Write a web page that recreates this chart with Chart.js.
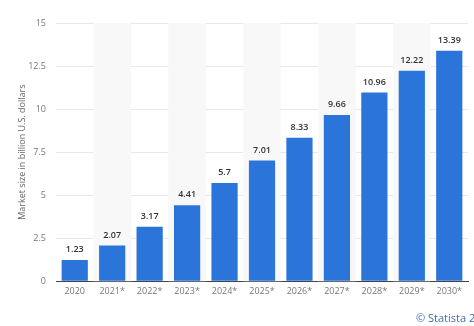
<!DOCTYPE html>
<html>
<head>
    <title>Market size</title>
    <script src="https://cdn.jsdelivr.net/npm/chart.js"></script>
    <style>
        body { margin: 0; background: #fff; }
        #wrap { position: relative; width: 474px; height: 326px; }
        #credit { position: absolute; left: 416px; top: 310px; font: 11px "Open Sans", sans-serif; color: #3b6fb6; white-space: nowrap; }
    </style>
</head>
<body>
    <div id="wrap">
        <canvas id="marketChart" width="474" height="326"></canvas>
        <div id="credit">© Statista 2021</div>
    </div>

    <script>
        const years = ['2020', '2021*', '2022*', '2023*', '2024*', '2025*', '2026*', '2027*', '2028*', '2029*', '2030*'];
        const marketSize = [1.23, 2.07, 3.17, 4.41, 5.7, 7.01, 8.33, 9.66, 10.96, 12.22, 13.39];
        const yTicks = [0, 2.5, 5, 7.5, 10, 12.5, 15];

        // light background band behind every second column
        const bands = {
            id: 'bands',
            beforeDatasetsDraw(chart) {
                const { ctx, chartArea, scales } = chart;
                const x = scales.x;
                const w = x.width / years.length;
                ctx.save();
                ctx.fillStyle = '#f8f8f8';
                years.forEach((y, i) => {
                    if (i % 2 === 1) {
                        ctx.fillRect(x.getPixelForValue(i) - w / 2, chartArea.top, w, chartArea.bottom - chartArea.top);
                    }
                });
                ctx.restore();
            }
        };

        // values written above each bar
        const valueLabels = {
            id: 'valueLabels',
            afterDatasetsDraw(chart) {
                const { ctx } = chart;
                const meta = chart.getDatasetMeta(0);
                ctx.save();
                ctx.font = '600 9px "Open Sans", sans-serif';
                ctx.fillStyle = '#333';
                ctx.textAlign = 'center';
                ctx.textBaseline = 'bottom';
                meta.data.forEach((bar, i) => {
                    ctx.fillText(String(marketSize[i]), bar.x, bar.y - 6);
                });
                ctx.restore();
            }
        };

        const ctx = document.getElementById('marketChart').getContext('2d');
        new Chart(ctx, {
            type: 'bar',
            data: {
                labels: years,
                datasets: [{
                    data: marketSize,
                    backgroundColor: '#2a74da',
                    barPercentage: 0.7,
                    categoryPercentage: 1
                }]
            },
            options: {
                responsive: false,
                animation: false,
                layout: { padding: { top: 23, right: 6, bottom: 32, left: 17 } },
                plugins: {
                    legend: { display: false },
                    tooltip: { enabled: false }
                },
                scales: {
                    x: {
                        grid: { display: false },
                        border: { color: '#444', width: 1 },
                        ticks: {
                            color: '#777',
                            font: { family: 'Open Sans', size: 9 },
                            maxRotation: 0,
                            padding: -3
                        }
                    },
                    y: {
                        min: 0,
                        max: 15,
                        afterBuildTicks(axis) {
                            axis.ticks = yTicks.map(v => ({ value: v }));
                        },
                        afterFit(axis) {
                            axis.width = 39;
                        },
                        grid: { color: '#e8e8e8', drawTicks: false },
                        border: { display: false },
                        ticks: {
                            color: '#777',
                            font: { family: 'Open Sans', size: 9 },
                            padding: 10
                        },
                        title: {
                            display: true,
                            text: 'Market size in billion U.S. dollars',
                            color: '#666',
                            font: { family: 'Open Sans', size: 9 },
                            padding: { top: 0, bottom: 2 }
                        }
                    }
                }
            },
            plugins: [bands, valueLabels]
        });
    </script>
</body>
</html>
